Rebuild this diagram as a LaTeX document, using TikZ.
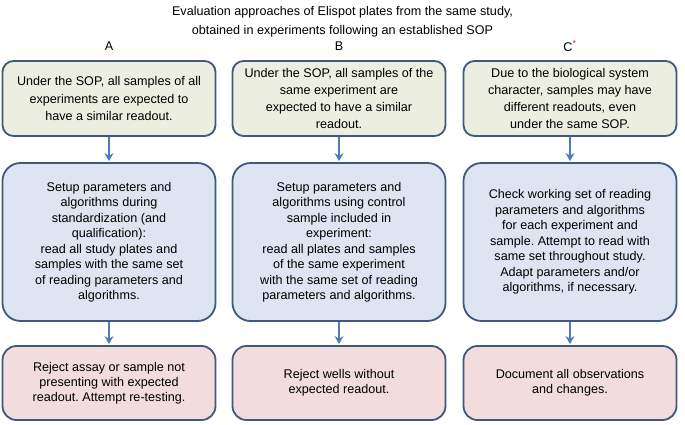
\documentclass[tikz,border=0pt]{standalone}
\usepackage{fontspec}
\setmainfont{Liberation Sans}
\usetikzlibrary{arrows.meta}
\frenchspacing
\definecolor{bordc}{RGB}{62,88,126}
\definecolor{topfill}{RGB}{236,239,224}
\definecolor{midfill}{RGB}{220,229,241}
\definecolor{botfill}{RGB}{242,220,220}
\definecolor{arrc}{RGB}{78,126,186}
\definecolor{astc}{RGB}{220,30,30}
\tikzset{
  box/.style={draw=bordc, line width=1.8pt, rectangle, align=center,
    minimum width=213pt, inner sep=0pt,
    font=\fontsize{12.6}{15.5}\selectfont},
  topbox/.style={box, fill=topfill, minimum height=75pt, rounded corners=11pt,
    font=\fontsize{12.6}{17.2}\selectfont},
  midbox/.style={box, fill=midfill, minimum height=158pt, rounded corners=18pt},
  botbox/.style={box, fill=botfill, minimum height=74pt, rounded corners=14pt,
    font=\fontsize{12.6}{15}\selectfont},
  arr/.style={draw=arrc, line width=2.3pt, -{Stealth[length=8pt,width=9pt]},
    shorten >=1pt},
  lab/.style={font=\fontsize{12.6}{15}\selectfont, inner sep=0pt}
}
\begin{document}
\begin{tikzpicture}[x=1pt,y=-1pt]
\useasboundingbox (0,0) rectangle (685,424);
\node[lab, align=center, font=\fontsize{12.6}{19}\selectfont] (title) at (342.5,22)
  {Evaluation approaches of Elispot plates from the same study,\\
   obtained in experiments following an established SOP};
\node[lab] (la) at (109,46) {A};
\node[lab] (lb) at (339,46) {B};
\node[lab] (lc) at (570,46) {C\textcolor{astc}{\textsuperscript{*}}};

% column A
\node[topbox] (a1) at (109,98.5) {Under the SOP, all samples of all\\experiments are expected to\\have a similar readout.};
\node[midbox] (a2) at (109,242) {Setup parameters and\\algorithms during\\standardization (and\\qualification):\\read all study plates and\\samples with the same set\\of reading parameters and\\algorithms.};
\node[botbox] (a3) at (109,383) {Reject assay or sample not\\presenting with expected\\readout. Attempt re-testing.};

% column B
\node[topbox] (b1) at (339,98.5) {Under the SOP, all samples of the\\same experiment are\\expected to have a similar\\readout.};
\node[midbox] (b2) at (339,242) {Setup parameters and\\algorithms using control\\sample included in\\experiment:\\read all plates and samples\\of the same experiment\\with the same set of reading\\parameters and algorithms.};
\node[botbox] (b3) at (339,383) {Reject wells without\\expected readout.};

% column C
\node[topbox] (c1) at (570,98.5) {Due to the biological system\\character, samples may have\\different readouts, even\\under the same SOP.};
\node[midbox] (c2) at (570,242) {Check working set of reading\\parameters and algorithms\\for each experiment and\\sample. Attempt to read with\\same set throughout study.\\Adapt parameters and/or\\algorithms, if necessary.};
\node[botbox] (c3) at (570,383) {Document all observations\\and changes.};

\draw[arr] (a1) -- (a2);
\draw[arr] (a2) -- (a3);
\draw[arr] (b1) -- (b2);
\draw[arr] (b2) -- (b3);
\draw[arr] (c1) -- (c2);
\draw[arr] (c2) -- (c3);
\end{tikzpicture}
\end{document}
